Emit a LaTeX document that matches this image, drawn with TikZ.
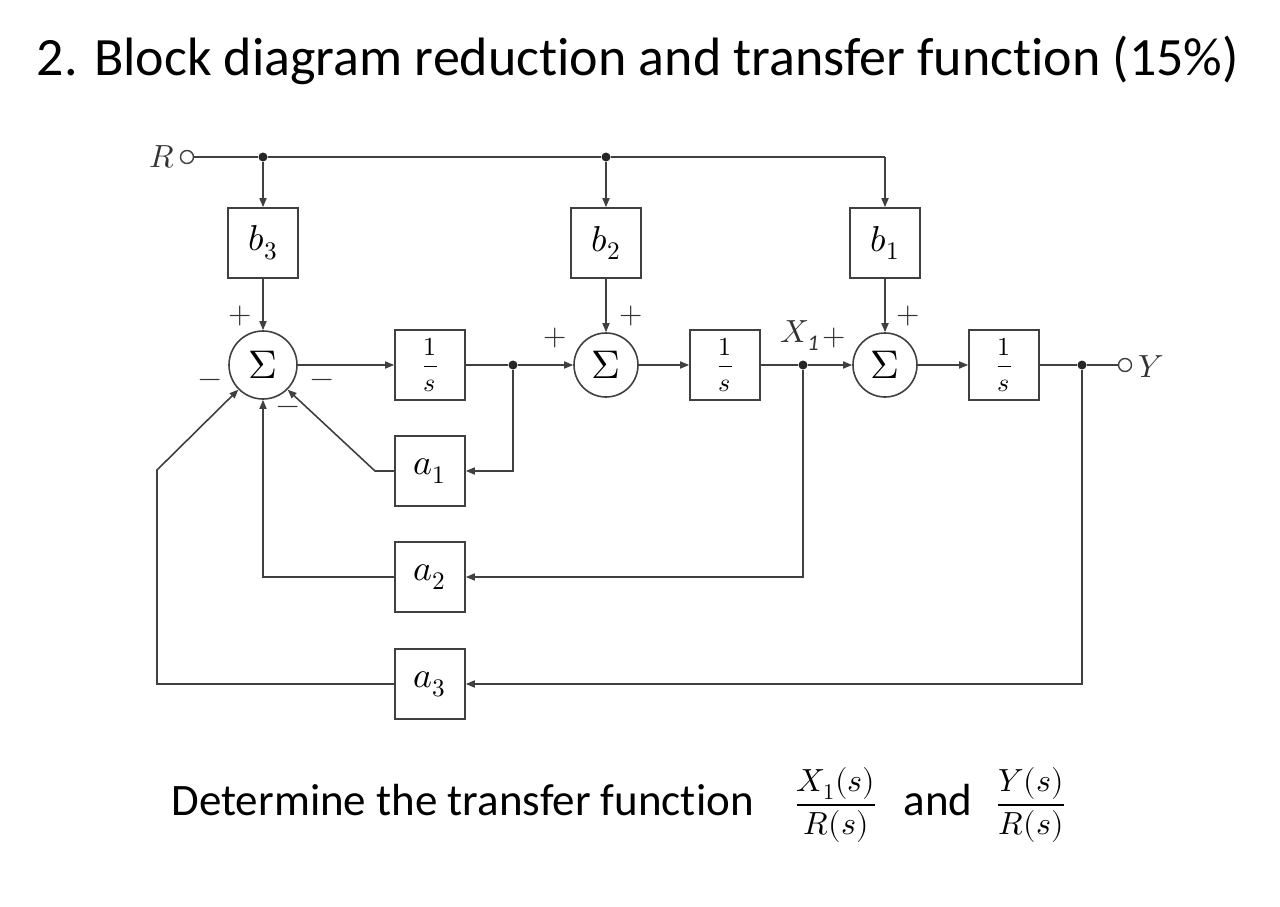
\documentclass[tikz,border=0pt]{standalone}
\usepackage{fontspec}
\setmainfont{Carlito}[Ligatures=NoCommon]
\usepackage{unicode-math}
\setmathfont{Latin Modern Math}
\usetikzlibrary{arrows.meta}
\begin{document}
\begin{tikzpicture}[x=1pt,y=-1pt,
  ln/.style={draw=black!75,line width=1.6pt},
  ar/.style={ln,-{Triangle[length=9pt,width=7pt]}},
  blk/.style={ln,minimum width=70pt,minimum height=70pt,inner sep=0pt,font=\fontsize{36}{36}\selectfont},
  sm/.style={ln,circle,minimum size=68pt,inner sep=0pt,font=\fontsize{40}{40}\selectfont},
  dot/.style={circle,fill=black!85,minimum size=9pt,inner sep=0pt},
  oc/.style={circle,draw=black!75,line width=1.4pt,fill=white,minimum size=13pt,inner sep=0pt},
  sg/.style={font=\fontsize{30}{30}\selectfont,text=black!80}]
\useasboundingbox (0,0) rectangle (1280,907);
\node[anchor=base,font=\fontsize{54}{54}\selectfont] (title) at (638,75) {2. Block diagram reduction and transfer function (15\%)};
% nodes
\node[oc] (R) at (187,157) {};
\node[sg,anchor=east,font=\fontsize{32}{32}\selectfont] (Rl) at (178,157) {$R$};
\node[dot] (d1) at (263,157) {};
\node[dot] (d2) at (606,157) {};
\coordinate (c3) at (885,157);
\node[blk] (b3) at (263,243) {$b_3$};
\node[blk] (b2) at (606,243) {$b_2$};
\node[blk] (b1) at (885,243) {$b_1$};
\node[sm] (s1) at (263,365) {$\Sigma$};
\node[sm,minimum size=64pt] (s2) at (606,365) {$\Sigma$};
\node[sm,minimum size=64pt] (s3) at (885,365) {$\Sigma$};
\node[blk,font=\fontsize{26}{26}\selectfont] (i1) at (430,365) {$\dfrac{1}{s}$};
\node[blk,font=\fontsize{26}{26}\selectfont] (i2) at (725,365) {$\dfrac{1}{s}$};
\node[blk,font=\fontsize{26}{26}\selectfont] (i3) at (1004,365) {$\dfrac{1}{s}$};
\node[dot] (p1) at (513,365) {};
\node[dot] (p2) at (803,365) {};
\node[dot] (p3) at (1082,365) {};
\node[oc] (Y) at (1125,365) {};
\node[sg,anchor=west,font=\fontsize{32}{32}\selectfont] (Yl) at (1135,367) {$Y$};
\node[blk,draw=none,minimum size=0pt] at (0,0) {};
\node[blk] (a1) at (430,471) {$a_1$};
\node[blk] (a2) at (430,577) {$a_2$};
\node[blk] (a3) at (430,684) {$a_3$};
\node[sg,font=\fontsize{32}{32}\selectfont] (X1) at (800,336) {$X_{\mathit{1}}$};
% signs
\node[sg] at (240,316) {$+$};
\node[sg] at (210,383) {$-$};
\node[sg] at (322,383) {$-$};
\node[sg] at (288,410) {$-$};
\node[sg] at (555,338) {$+$};
\node[sg] at (631,316) {$+$};
\node[sg] at (834,338) {$+$};
\node[sg] at (908,316) {$+$};
% connectors
\draw[ln] (R) -- (d1) -- (d2) -- (c3);
\draw[ar] (c3) -- (b1);
\draw[ar] (d1) -- (b3);
\draw[ar] (d2) -- (b2);
\draw[ar] (b3) -- (s1);
\draw[ar] (b2) -- (s2);
\draw[ar] (b1) -- (s3);
\draw[ar] (s1) -- (i1);
\draw[ln] (i1) -- (p1);
\draw[ar] (p1) -- (s2);
\draw[ar] (s2) -- (i2);
\draw[ln] (i2) -- (p2);
\draw[ar] (p2) -- (s3);
\draw[ar] (s3) -- (i3);
\draw[ln] (i3) -- (p3) -- (Y);
\draw[ar] (p1) |- (a1);
\draw[ar] (p2) |- (a2);
\draw[ar] (p3) |- (a3);
\coordinate (k1) at (375,471);
\draw[ar] (a1) -- (k1) -- (s1.-45);
\draw[ar] (a2) -| (s1);
\coordinate (k3) at (157,684);
\coordinate (k4) at (157,470);
\draw[ar] (a3) -- (k3) -- (k4) -- (s1.-135);
% bottom text
\node[anchor=base west,font=\fontsize{45}{45}\selectfont] (q) at (168,815) {Determine the transfer function};
\node[font=\fontsize{32}{32}\selectfont] (f1) at (836,805) {$\dfrac{X_1(s)}{R(s)}$};
\node[anchor=base,font=\fontsize{45}{45}\selectfont] (and) at (938,815) {and};
\node[font=\fontsize{32}{32}\selectfont] (f2) at (1031,805) {$\dfrac{Y(s)}{R(s)}$};
\end{tikzpicture}
\end{document}
